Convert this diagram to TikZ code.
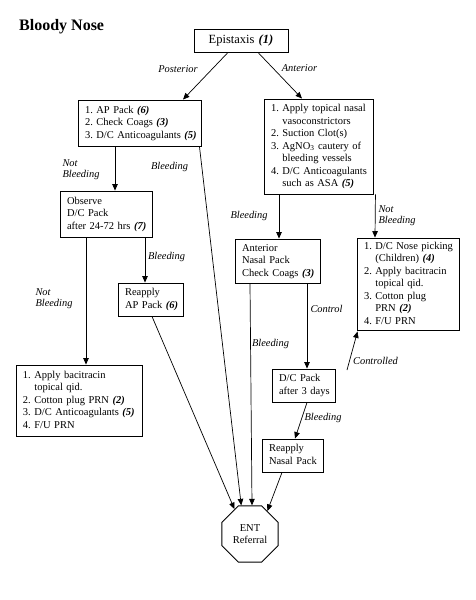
\documentclass[tikz,border=0pt]{standalone}
\usepackage{fontspec}
\setmainfont{Liberation Serif}
\usetikzlibrary{arrows.meta,calc,shapes.geometric}
\newcommand{\bnum}[1]{\textbf{\textit{#1}}}
\tikzset{
  box/.style={draw, line width=0.9pt, align=left, inner xsep=7pt, inner ysep=0pt,
    font=\fontsize{10.5}{12.5}\selectfont},
  lab/.style={font=\fontsize{10.4}{11}\selectfont\itshape, align=left, inner sep=0pt},
  arr/.style={-{Triangle[length=6.5pt,width=5.5pt]}, line width=0.7pt},
  octa/.style={draw, line width=0.9pt, regular polygon, regular polygon sides=8,
    minimum size=61pt, inner sep=0pt, align=center, font=\fontsize{10.5}{12.5}\selectfont},
}
\newcommand{\lst}[1]{\begin{tabular}{@{}l@{\hspace{3.5pt}}l@{}}#1\end{tabular}}
\newcommand{\lns}[1]{\begin{tabular}{@{}l@{}}#1\end{tabular}}
\begin{document}
\begin{tikzpicture}[x=1pt,y=-1pt]
\fill[white] (0,0) rectangle (476,600);
\useasboundingbox (0,0) rectangle (476,600);

\node[font=\fontsize{16}{18}\selectfont\bfseries, anchor=base west, inner sep=0pt] (title) at (19,30) {Bloody Nose};

\node[box, text width=80pt, minimum height=23pt, align=center, font=\fontsize{12.5}{14}\selectfont] (epi) at (241,40.5) {Epistaxis \bnum{(1)}};

\node[box, text width=109pt, minimum height=46pt] (ap) at (139.5,123)
  {\lst{1. & AP Pack \bnum{(6)}\\ 2. & Check Coags \bnum{(3)}\\ 3. & D/C Anticoagulants \bnum{(5)}}};

\node[box, text width=95pt, minimum height=95pt] (ant) at (318.5,146.5)
  {\lst{1. & Apply topical nasal\\ & vasoconstrictors\\ 2. & Suction Clot(s)\\ 3. & AgNO\textsubscript{3} cautery of\\ & bleeding vessels\\ 4. & D/C Anticoagulants\\ & such as ASA \bnum{(5)}}};

\node[box, text width=78pt, minimum height=46pt] (obs) at (106,214)
  {\lns{Observe\\ D/C Pack\\ after 24-72 hrs \bnum{(7)}}};

\node[box, text width=51pt, minimum height=33pt] (reap) at (150.5,299.5)
  {\lns{Reapply\\ AP Pack \bnum{(6)}}};

\node[box, text width=112pt, minimum height=71pt] (bac) at (79,400.5)
  {\lst{1. & Apply bacitracin\\ & topical qid.\\ 2. & Cotton plug PRN \bnum{(2)}\\ 3. & D/C Anticoagulants \bnum{(5)}\\ 4. & F/U PRN}};

\node[box, text width=71pt, minimum height=44pt] (nas) at (277.5,261)
  {\lns{Anterior\\ Nasal Pack\\ Check Coags \bnum{(3)}}};

\node[box, text width=88pt, minimum height=92pt] (dcn) at (408,284)
  {\lst{1. & D/C Nose picking\\ & (Children) \bnum{(4)}\\ 2. & Apply bacitracin\\ & topical qid.\\ 3. & Cotton plug\\ & PRN \bnum{(2)}\\ 4. & F/U PRN}};

\node[box, text width=49pt, minimum height=33pt] (dcp) at (303.5,385.5)
  {\lns{D/C Pack\\ after 3 days}};

\node[box, text width=47pt, minimum height=33pt] (ren) at (292.5,455.5)
  {\lns{Reapply\\ Nasal Pack}};

\node[octa] (ent) at (250,534) {ENT\\ Referral};

% connectors
\draw[arr] ($(epi.south)+(-13,0)$) -- ($(ap.north)+(43.5,0)$);
\draw[arr] ($(epi.south)+(17,0)$) -- ($(ant.north)+(-16.5,0)$);
\draw[arr] ($(ap.south)+(-24.5,0)$) -- ($(obs.north)+(9,0)$);
\draw[arr] ($(ap.south east)+(-2,0)$) -- (ent.107);
\draw[arr] ($(obs.south)+(39,0)$) -- ($(reap.north)+(-5.5,0)$);
\draw[arr] ($(obs.south)+(-20,0)$) -- ($(bac.north)+(7,0)$);
\draw[arr] ($(reap.south)+(1.5,0)$) -- (ent.122);
\draw[arr] ($(ant.south)+(-39.5,0)$) -- ($(nas.north)+(1.5,0)$);
\draw[arr] ($(ant.south east)+(2,0)$) -- ($(dcn.north)+(-33,0)$);
\draw[arr] ($(nas.south)+(-27.5,0)$) -- (ent.86);
\draw[arr] ($(nas.south)+(29.5,0)$) -- ($(dcp.north)+(3.5,0)$);
\draw[arr] ($(dcp.south)+(3.5,0)$) -- ($(ren.north)+(2.5,0)$);
\draw[arr] ($(ren.south)+(-10.5,0)$) -- (ent.53.5);
\coordinate (ctl) at (347,370);
\draw[arr] (ctl) -- ($(dcn.south west)+(1,1)$);

% labels
\node[lab] (lpost) at (178,69) {Posterior};
\node[lab] (lant) at (299.5,68) {Anterior};
\node[lab] (lnb1) at (81,169.5) {Not\\ Bleeding};
\node[lab] (lb1) at (169.5,167) {Bleeding};
\node[lab] (lb2) at (166.5,257) {Bleeding};
\node[lab] (lnb2) at (54,298.5) {Not\\ Bleeding};
\node[lab] (lb3) at (249,216) {Bleeding};
\node[lab] (lnb3) at (397,215.5) {Not\\ Bleeding};
\node[lab] (lctl) at (326.5,309) {Control};
\node[lab] (lb4) at (270.5,344) {Bleeding};
\node[lab] (lb5) at (323,418) {Bleeding};
\node[lab] (lctd) at (375.5,361) {Controlled};
\end{tikzpicture}
\end{document}
